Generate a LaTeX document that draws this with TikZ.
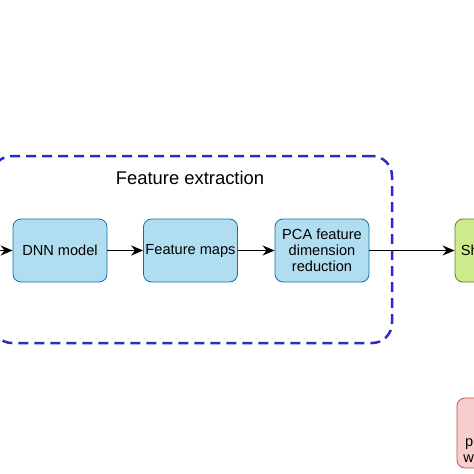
\documentclass[tikz,border=0pt]{standalone}
\usepackage{fontspec}
\setmainfont{Liberation Sans}
\usetikzlibrary{arrows.meta,positioning}

\definecolor{stagefill}{HTML}{B1DDF0}
\definecolor{stageline}{HTML}{10739E}
\definecolor{clsfill}{HTML}{CDEB8B}
\definecolor{clsline}{HTML}{5E7A2E}
\definecolor{outfill}{HTML}{F8CECC}
\definecolor{outline}{HTML}{B85450}
\definecolor{groupblue}{HTML}{2B2BC8}

\begin{document}
\begin{tikzpicture}[x=1pt,y=-1pt,
  stage/.style={rectangle,draw=stageline,fill=stagefill,rounded corners=8pt,line width=0.8pt,
    minimum width=94pt,minimum height=63pt,align=center,inner sep=1pt,
    font=\fontsize{14.6}{16}\selectfont},
  flow/.style={-{Stealth[length=12pt,width=10pt]},line width=1.5pt}]
\useasboundingbox (0,0) rectangle (474,474);
\clip (0,0) rectangle (474,474);

% Feature extraction group
\node[draw=groupblue,line width=2.5pt,dash pattern=on 10pt off 6pt,rounded corners=20pt,
  minimum width=400pt,minimum height=187pt,inner sep=0pt] (group) at (192,249.5) {};
\node[font=\fontsize{18.4}{20}\selectfont] (title) at (190,178) {Feature extraction};

% Stages
\node[stage] (dnn) at (60,250.5) {DNN model};
\node[stage] (fmaps) at (190.5,250.5) {Feature maps};
\node[stage] (pca) at (322,250.5) {PCA feature\\dimension\\reduction};
\node[stage,fill=clsfill,draw=clsline] (cls) at (502,250.5) {\hspace*{-6pt}Shallow NN};
\node[stage,fill=outfill,draw=outline,minimum height=70pt] (out) at (504,433) {Final\\class\\probabilities\\\hspace*{-8pt}with scores};

% Connectors
\coordinate (inp) at (-5,250.5);
\draw[flow] (inp) -- (dnn);
\draw[flow] (dnn) -- (fmaps);
\draw[flow] (fmaps) -- (pca);
\draw[flow] (pca) -- (cls);
\end{tikzpicture}
\end{document}
